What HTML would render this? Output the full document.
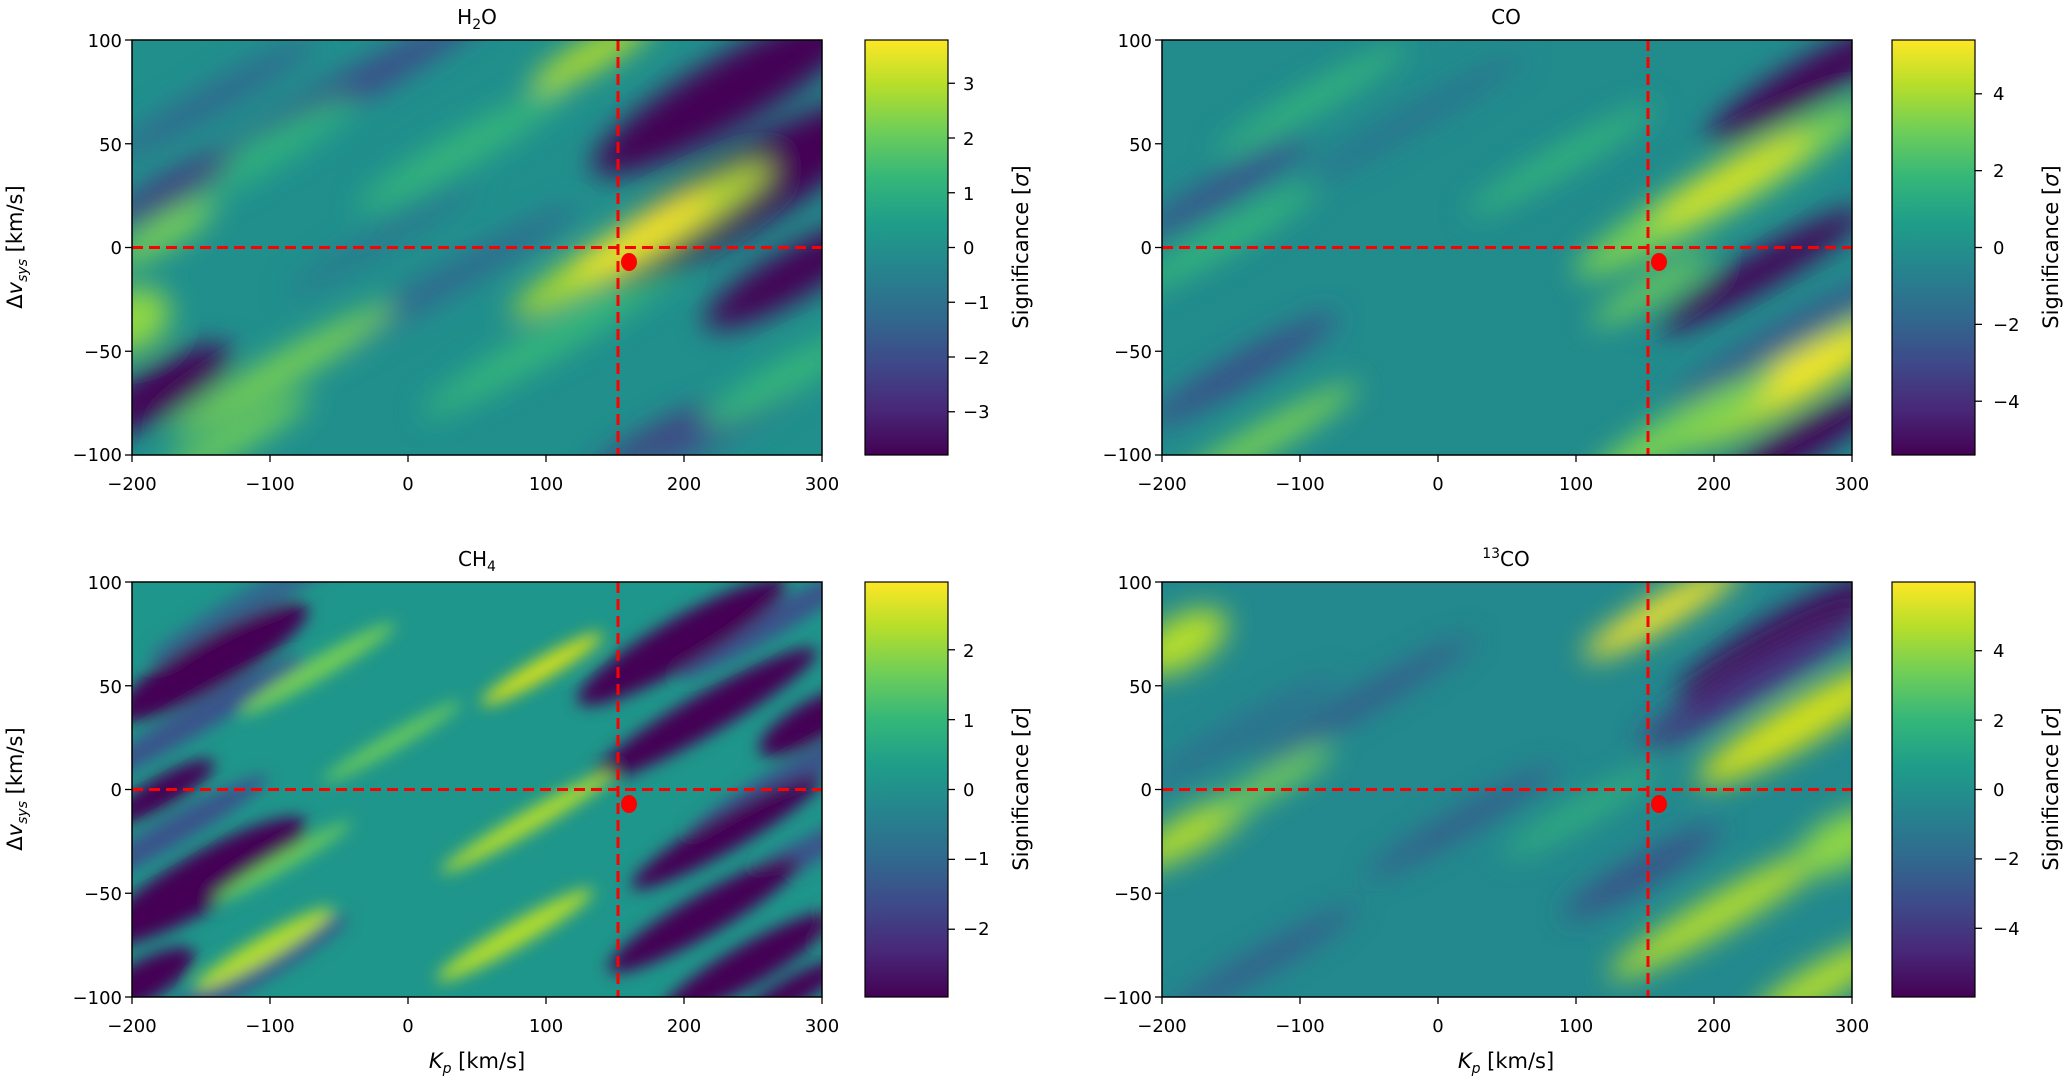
<!DOCTYPE html>
<html><head><meta charset="utf-8"><style>
html,body{margin:0;padding:0;background:#fff}
svg{display:block}
text{font-family:"DejaVu Sans","Liberation Sans",sans-serif;fill:#000}
</style></head><body>
<svg id="s" width="2070" height="1085" viewBox="0 0 2070 1085" xmlns="http://www.w3.org/2000/svg">
<defs>
<linearGradient id="vir" x1="0" y1="1" x2="0" y2="0">
<stop offset="0" stop-color="#440154"/><stop offset="0.11" stop-color="#482878"/><stop offset="0.22" stop-color="#3e4989"/><stop offset="0.33" stop-color="#31688e"/><stop offset="0.44" stop-color="#26828e"/><stop offset="0.56" stop-color="#1f9e89"/><stop offset="0.67" stop-color="#35b779"/><stop offset="0.78" stop-color="#6ece58"/><stop offset="0.89" stop-color="#b5de2b"/><stop offset="1" stop-color="#fde725"/>
</linearGradient>
<filter id="b1" x="-20%" y="-20%" width="140%" height="140%"><feGaussianBlur stdDeviation="14"/></filter>
<filter id="b2" x="-20%" y="-20%" width="140%" height="140%"><feGaussianBlur stdDeviation="8"/></filter>
<clipPath id="ax"><rect x="0" y="0" width="690" height="415"/></clipPath>
</defs>
<g id="p1" transform="translate(132,40)"></g>
<g id="p2" transform="translate(1162,40)"></g>
<g id="p3" transform="translate(132,582)"></g>
<g id="p4" transform="translate(1162,582)"></g>

<g font-size="20" text-anchor="middle">
<text x="477" y="24">H<tspan font-size="14" dy="5">2</tspan><tspan dy="-5">O</tspan></text>
<text x="1506" y="24">CO</text>
<text x="477" y="566">CH<tspan font-size="14" dy="5">4</tspan></text>
<text x="1506" y="566"><tspan font-size="14" dy="-8">13</tspan><tspan dy="8">CO</tspan></text>
</g>

<g font-size="18" text-anchor="end">
<text x="122" y="47">100</text><text x="122" y="151">50</text><text x="122" y="254">0</text><text x="122" y="358">−50</text><text x="122" y="461">−100</text>
<text x="1152" y="47">100</text><text x="1152" y="151">50</text><text x="1152" y="254">0</text><text x="1152" y="358">−50</text><text x="1152" y="461">−100</text>
<text x="122" y="589">100</text><text x="122" y="693">50</text><text x="122" y="796">0</text><text x="122" y="900">−50</text><text x="122" y="1004">−100</text>
<text x="1152" y="589">100</text><text x="1152" y="693">50</text><text x="1152" y="796">0</text><text x="1152" y="900">−50</text><text x="1152" y="1004">−100</text>
</g>
<g font-size="18" text-anchor="middle">
<text x="132" y="490">−200</text><text x="270" y="490">−100</text><text x="408" y="490">0</text><text x="546" y="490">100</text><text x="684" y="490">200</text><text x="822" y="490">300</text>
<text x="1162" y="490">−200</text><text x="1300" y="490">−100</text><text x="1438" y="490">0</text><text x="1576" y="490">100</text><text x="1714" y="490">200</text><text x="1852" y="490">300</text>
<text x="132" y="1032">−200</text><text x="270" y="1032">−100</text><text x="408" y="1032">0</text><text x="546" y="1032">100</text><text x="684" y="1032">200</text><text x="822" y="1032">300</text>
<text x="1162" y="1032">−200</text><text x="1300" y="1032">−100</text><text x="1438" y="1032">0</text><text x="1576" y="1032">100</text><text x="1714" y="1032">200</text><text x="1852" y="1032">300</text>
</g>
<g font-size="21">
<text x="477" y="1068" text-anchor="middle"><tspan font-style="italic">K</tspan><tspan font-style="italic" font-size="14" dy="5">p</tspan><tspan dy="-5"> [km/s]</tspan></text>
<text x="1506" y="1068" text-anchor="middle"><tspan font-style="italic">K</tspan><tspan font-style="italic" font-size="14" dy="5">p</tspan><tspan dy="-5"> [km/s]</tspan></text>
<text transform="translate(22,247) rotate(-90)" text-anchor="middle">Δ<tspan font-style="italic">v</tspan><tspan font-style="italic" font-size="14" dy="5">sys</tspan><tspan dy="-5"> [km/s]</tspan></text>
<text transform="translate(22,789) rotate(-90)" text-anchor="middle">Δ<tspan font-style="italic">v</tspan><tspan font-style="italic" font-size="14" dy="5">sys</tspan><tspan dy="-5"> [km/s]</tspan></text>
<text transform="translate(1028,247) rotate(-90)" text-anchor="middle">Significance [<tspan font-style="italic">σ</tspan>]</text>
<text transform="translate(2058,247) rotate(-90)" text-anchor="middle">Significance [<tspan font-style="italic">σ</tspan>]</text>
<text transform="translate(1028,789) rotate(-90)" text-anchor="middle">Significance [<tspan font-style="italic">σ</tspan>]</text>
<text transform="translate(2058,789) rotate(-90)" text-anchor="middle">Significance [<tspan font-style="italic">σ</tspan>]</text>
</g>
<g font-size="18">
<text x="963" y="90">3</text><text x="963" y="145">2</text><text x="963" y="200">1</text><text x="963" y="254">0</text><text x="963" y="309">−1</text><text x="963" y="364">−2</text><text x="963" y="418">−3</text>
<text x="1993" y="100">4</text><text x="1993" y="177">2</text><text x="1993" y="254">0</text><text x="1993" y="331">−2</text><text x="1993" y="408">−4</text>
<text x="963" y="657">2</text><text x="963" y="727">1</text><text x="963" y="796">0</text><text x="963" y="865">−1</text><text x="963" y="935">−2</text>
<text x="1993" y="657">4</text><text x="1993" y="727">2</text><text x="1993" y="796">0</text><text x="1993" y="865">−2</text><text x="1993" y="935">−4</text>
</g>
</svg>
<script>
var NS="http://www.w3.org/2000/svg";
function el(p,t,a){var e=document.createElementNS(NS,t);for(var k in a)e.setAttribute(k,a[k]);p.appendChild(e);return e;}
var D="#440154";
var data={
p1:{bg:"#21908d",f:"b1",cb:[3.79,[3,2,1,0,-1,-2,-3]],e:[
[200,60,190,16,"#3e4a89"],[300,250,170,14,"#31688e"],[600,380,100,14,"#3b528b"],[330,110,120,16,"#35b779"],[120,120,120,16,"#2fb47c"],[420,300,150,16,"#35b779"],[650,340,90,16,"#35b779"],[250,200,110,12,"#2a788e"],[80,60,120,14,"#31688e"],
[600,50,160,35,D],[610,150,180,40,D],[660,235,100,25,D],[40,150,70,15,"#46337e"],[30,350,80,25,D],[520,400,70,10,"#46337e"],
[510,200,150,20,"#b5de2b"],[510,195,80,14,"#fde725"],[460,15,70,15,"#b5de2b"],[30,195,60,14,"#7ad151"],[0,280,40,30,"#8fd744"],[150,330,130,15,"#7ad151"],[100,400,90,14,"#6ece58"]]},
p2:{bg:"#228c8d",f:"b1",cb:[5.4,[4,2,0,-2,-4]],e:[
[60,150,100,14,"#3b528b"],[80,330,110,14,"#3e4a89"],[250,80,130,12,"#2c728e"],[620,300,130,15,"#3b528b"],
[650,40,120,22,D],[600,230,120,18,D],[640,400,100,20,D],
[560,150,170,25,"#7ad151"],[570,140,90,15,"#d8e219"],[630,340,140,25,"#b5de2b"],[650,330,70,14,"#fde725"],[520,390,110,20,"#7ad151"],[490,250,70,12,"#6ece58"],
[60,200,110,14,"#35b779"],[100,400,110,14,"#7ad151"],[400,120,110,12,"#35b779"],[150,60,110,12,"#35b779"]]},
p3:{bg:"#1f968b",f:"b2",cb:[2.97,[2,1,0,-1,-2]],e:[
[60,140,130,14,"#3b528b"],[40,250,110,14,"#3b528b"],[640,40,110,14,"#3b528b"],[650,200,110,14,"#3b528b"],[640,290,110,14,"#3b528b"],[120,20,120,14,"#31688e"],[120,390,110,14,"#3b528b"],[660,360,80,14,"#31688e"],
[80,80,110,26,D],[30,210,60,15,D],[70,300,120,28,D],[10,400,60,20,D],[550,60,120,24,D],[572,133,130,20,D],[680,140,60,20,D],[595,250,110,18,D],[572,333,110,20,D],[616,383,100,20,D],[660,410,60,14,D],
[410,87,70,10,"#d8e219"],[185,87,90,10,"#7ad151"],[396,240,100,10,"#b5de2b"],[383,353,90,12,"#b5de2b"],[132,367,80,12,"#b5de2b"],[150,280,80,8,"#6ece58"],[260,160,80,8,"#6ece58"]]},
p4:{bg:"#23898e",f:"b1",cb:[5.98,[4,2,0,-2,-4]],e:[
[480,290,90,12,"#414487"],[300,240,110,10,"#3b528b"],[200,120,130,10,"#3b528b"],[100,380,110,10,"#3b528b"],[80,150,110,10,"#31688e"],
[620,55,120,22,D],[590,100,130,18,"#46337e"],
[500,30,90,15,"#fde725"],[640,140,120,22,"#d8e219"],[560,330,130,18,"#b5de2b"],[660,400,80,18,"#b5de2b"],[20,60,50,25,"#b5de2b"],[30,250,70,18,"#b5de2b"],[110,200,70,12,"#7ad151"],[420,230,90,10,"#35b779"],[680,260,50,25,"#8fd744"]]}
};
for(var id in data){
 var d=data[id],g=document.getElementById(id);
 var c=el(g,"g",{"clip-path":"url(#ax)"});
 el(c,"rect",{x:0,y:0,width:690,height:415,fill:d.bg});
 var h=el(c,"g",{filter:"url(#"+d.f+")"});
 d.e.forEach(function(q){el(h,"ellipse",{cx:q[0],cy:q[1],rx:q[2],ry:q[3],fill:q[4],transform:"rotate(-30 "+q[0]+" "+q[1]+")"});});
 el(g,"line",{x1:486,y1:0,x2:486,y2:415,stroke:"#f00",'stroke-width':3,'stroke-dasharray':"11,6"});
 el(g,"line",{x1:0,y1:207.5,x2:690,y2:207.5,stroke:"#f00",'stroke-width':3,'stroke-dasharray':"11,6"});
 el(g,"ellipse",{cx:497,cy:222,rx:8,ry:9,fill:"#f00"});
 el(g,"rect",{x:0,y:0,width:690,height:415,fill:"none",stroke:"#000",'stroke-width':1.5});
 for(var i=0;i<=5;i++)el(g,"line",{x1:i*138,y1:415,x2:i*138,y2:422,stroke:"#000",'stroke-width':1.3});
 for(var j=0;j<=4;j++)el(g,"line",{x1:0,y1:j*103.75,x2:-7,y2:j*103.75,stroke:"#000",'stroke-width':1.3});
 var cx=(id=="p1"||id=="p3")?733:730;
 el(g,"rect",{x:cx,y:0,width:83,height:415,fill:"url(#vir)",stroke:"#000",'stroke-width':1.2});
 var r=d.cb[0];
 d.cb[1].forEach(function(v){var y=207.5-v*207.5/r;el(g,"line",{x1:cx+83,y1:y,x2:cx+90,y2:y,stroke:"#000",'stroke-width':1.3});});
}
</script>
</body></html>
